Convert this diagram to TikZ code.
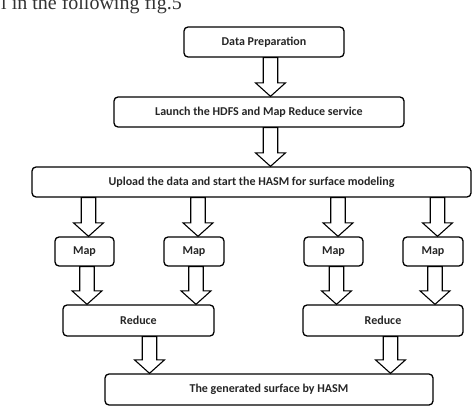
\documentclass[tikz,border=0pt]{standalone}
\usepackage{fontspec}
\setmainfont{Liberation Serif}
\newfontfamily\boxfont{Carlito}
\usetikzlibrary{calc}
\newcommand\blockarrow[3]{%
  \draw[barrow] let \p1=(#1.south), \p2=(#2.north) in
    (#3pt-7.25pt,\y1) -- (#3pt-7.25pt,\y2+13.5pt) -- (#3pt-15pt,\y2+13.5pt) --
    (#3pt,\y2) -- (#3pt+15pt,\y2+13.5pt) -- (#3pt+7.25pt,\y2+13.5pt) --
    (#3pt+7.25pt,\y1) -- cycle;}
\begin{document}
\begin{tikzpicture}[x=1pt,y=-1pt,
  box/.style={draw=black, line width=1.3pt, rounded corners=4pt, fill=white,
    inner sep=0pt, font=\boxfont\bfseries\fontsize{12}{14}\selectfont, text=black!85},
  barrow/.style={draw=black, line width=1.1pt, fill=white, line join=miter}]
\clip (0,0) rectangle (474,409);
\fill[white] (0,0) rectangle (474,409);
\node[anchor=base west, inner sep=0pt, font=\fontsize{20}{24}\selectfont, text=black!80] (cap) at (1,9.5) {l in the following fig.5};

\node[box, minimum width=160, minimum height=30] (data) at (264,42) {Data Preparation};
\node[box, minimum width=290, minimum height=30] (launch) at (259,112) {Launch the HDFS and Map Reduce service};
\node[box, minimum width=439, minimum height=30] (upload) at (251.5,182) {Upload the data and start the HASM for surface modeling};
\node[box, minimum width=59, minimum height=29] (map1) at (84.5,251.5) {Map};
\node[box, minimum width=60, minimum height=29] (map2) at (194,251.5) {Map};
\node[box, minimum width=59, minimum height=29] (map3) at (333.5,251.5) {Map};
\node[box, minimum width=60, minimum height=29] (map4) at (433,251.5) {Map};
\node[box, minimum width=151, minimum height=31] (red1) at (138.5,320.5) {Reduce};
\node[box, minimum width=160, minimum height=31] (red2) at (383,320.5) {Reduce};
\node[box, minimum width=328, minimum height=31] (final) at (269,389.5) {The generated surface by HASM};

\blockarrow{data}{launch}{270.5}
\blockarrow{launch}{upload}{270.5}
\blockarrow{upload}{map1}{88.5}
\blockarrow{upload}{map2}{198}
\blockarrow{upload}{map3}{338}
\blockarrow{upload}{map4}{437.5}
\blockarrow{map1}{red1}{87}
\blockarrow{map2}{red1}{196}
\blockarrow{map3}{red2}{336.5}
\blockarrow{map4}{red2}{435}
\blockarrow{red1}{final}{149.5}
\blockarrow{red2}{final}{390.5}
\end{tikzpicture}
\end{document}
